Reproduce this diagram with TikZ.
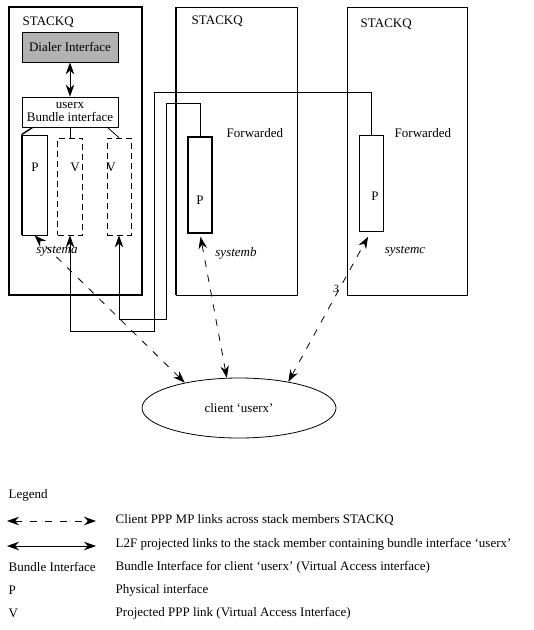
\documentclass[tikz,border=0pt]{standalone}
\usepackage{fontspec}
\setmainfont{Liberation Serif}
\usetikzlibrary{arrows.meta,shapes.geometric}
\begin{document}
\begin{tikzpicture}[x=1pt, y=-1pt, line width=0.8pt,
    >={Stealth[length=12pt, width=8.5pt]},
    every node/.style={font=\fontsize{13}{13.5}\selectfont},
    box/.style={draw, rectangle, inner sep=0pt},
    member/.style={box, minimum width=#1, minimum height=288pt},
    port/.style={box, minimum width=24pt, minimum height=#1},
    vport/.style={port=97pt, dash pattern=on 6pt off 4pt},
    sysname/.style={font=\fontsize{13}{13.5}\selectfont\itshape},
    mp/.style={<->, dash pattern=on 7pt off 8pt}]
  \useasboundingbox (0,0) rectangle (534,630);

  % stack members
  \node[member=133pt, line width=1.4pt] (sysa) at (75.5,151) {};
  \node[member=121pt] (sysb) at (236.5,151) {};
  \draw[line width=2pt] (sysb.north west) -- (sysb.south west);
  \node[member=120pt] (sysc) at (407,151) {};
  \node[anchor=west] (stacka) at (19,22) {STACKQ};
  \node[anchor=west] (stackb) at (188,21) {STACKQ};
  \node[anchor=west] (stackc) at (357,24) {STACKQ};

  % systema
  \node[box, minimum width=96pt, minimum height=30pt, fill=gray!60] (dialer) at (70,47) {Dialer Interface};
  \node[box, minimum width=96pt, minimum height=30pt, align=center] (userx) at (70,112) {userx\\Bundle interface};
  \node[port=100pt, minimum width=25pt] (Pa) at (34.5,185) {};
  \draw[line width=1.6pt] (Pa.north west) -- (Pa.south west);
  \node[vport, minimum width=25pt] (Va1) at (70,186.5) {};
  \node[vport] (Va2) at (119,186.5) {};
  \node (labPa) at (35,167) {P};
  \node (labVa1) at (75,167) {V};
  \node (labVa2) at (111,167) {V};
  \node[sysname] (namea) at (57,251) {systema};
  \draw[<->] (dialer) -- (userx);
  \draw[line width=1.4pt] ([xshift=11pt]userx.south west) -- (Pa.north west);
  \draw (Va1.north |- userx.south) -- (Va1.north);
  \draw ([xshift=-11pt]userx.south east) -- (Va2.north);

  % systemb and systemc
  \node[port=96pt, line width=1.6pt] (Pb) at (200,185) {};
  \node (labPb) at (200,200) {P};
  \node[anchor=west] (fwdb) at (223,133) {Forwarded};
  \node[sysname] (nameb) at (236,253) {systemb};
  \node[port=96pt] (Pc) at (371,183) {};
  \node (labPc) at (375,196) {P};
  \node[anchor=west] (fwdc) at (391,133) {Forwarded};
  \node[sysname] (namec) at (405,251) {systemc};

  % L2F projected links
  \draw[->] (Pc.north) |- (154,92) |- (70,331) -- (Va1.south);
  \draw[->] (Pb.north) |- (166,103) |- (119,319) -- (Va2.south);

  % client
  \node[draw, ellipse, minimum width=194pt, minimum height=60pt, inner sep=0pt] (client) at (239,408) {client ‘userx’};
  \draw[mp] (client.155) -- (Pa.south);
  \draw[mp, shorten >=3pt] (client.112) -- (Pb.south);
  \draw[mp, shorten >=6pt] (client.28) -- (Pc.south);
  \node[font=\fontsize{11}{12}\selectfont\itshape] (three) at (336,289) {3};

  % legend
  \node[anchor=west] (legend) at (5,495) {Legend};
  \coordinate (mpa) at (7,521);
  \coordinate (mpb) at (96,521);
  \draw[mp] (mpa) -- (mpb);
  \node[anchor=west] (mpkey) at (112,520) {Client PPP MP links across stack members STACKQ};
  \coordinate (l2fa) at (7,546);
  \coordinate (l2fb) at (96,546);
  \draw[<->] (l2fa) -- (l2fb);
  \node[anchor=west] (l2fkey) at (112,544) {L2F projected links to the stack member containing bundle interface ‘userx’};
  \node[anchor=west] (bundle) at (5,567) {Bundle Interface};
  \node[anchor=west] (bundlekey) at (112,567) {Bundle Interface for client ‘userx’ (Virtual Access interface)};
  \node[anchor=west] (phys) at (5,590) {P};
  \node[anchor=west] (physkey) at (112,590) {Physical interface};
  \node[anchor=west] (proj) at (5,613) {V};
  \node[anchor=west] (projkey) at (112,613) {Projected PPP link (Virtual Access Interface)};
\end{tikzpicture}
\end{document}
